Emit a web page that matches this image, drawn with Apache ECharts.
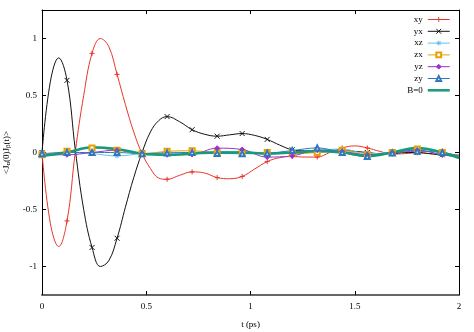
<!DOCTYPE html>
<html><head><meta charset="utf-8">
<script src="https://cdn.jsdelivr.net/npm/echarts@6/dist/echarts.min.js"></script>
<style>html,body{margin:0;padding:0;background:#fff}#c{width:474px;height:332px}</style>
</head><body><div id="c"></div>
<script>
// time grids (ps)
const tMain = [0,0.04,0.08,0.12,0.16,0.2,0.24,0.28,0.32,0.36,0.4,0.44,0.48,0.52,0.56,0.6,
  0.66,0.72,0.78,0.84,0.9,0.96,1.02,1.08,1.14,1.2,1.26,1.32,1.38,1.44,1.5,1.56,1.62,1.68,1.74,1.8,1.86,1.92,1.98,2.0];
const tSmall = [0,0.12,0.24,0.36,0.48,0.6,0.72,0.84,0.96,1.08,1.2,1.32,1.44,1.56,1.68,1.8,1.92,2.0];
// series values
const xy = [0,-0.62,-0.825,-0.6,0.01,0.5,0.87,1.0,0.93,0.685,0.42,0.18,-0.01,-0.14,-0.225,-0.235,
  -0.2,-0.17,-0.18,-0.22,-0.23,-0.21,-0.145,-0.08,-0.045,-0.035,-0.04,-0.04,0.0,0.04,0.058,0.04,0.01,-0.014,-0.01,-0.003,-0.01,-0.023,-0.02,-0.02];
const yx = [0,0.62,0.83,0.633,0.02,-0.5,-0.833,-1.0,-0.95,-0.752,-0.48,-0.22,0.0,0.18,0.28,0.315,
  0.27,0.2,0.16,0.143,0.155,0.166,0.15,0.115,0.065,0.024,0.015,0.02,0.02,0.02,0.01,0.0,-0.01,-0.01,0.0,0.0,-0.01,-0.02,-0.03,-0.03];
const xz = [-0.03,0.0,-0.01,-0.03,-0.01,0.0,0.0,0.01,0.01,-0.01,0.0,0.02,0.03,-0.01,0.0,0.02,-0.02,-0.03];
const zx = [-0.02,0.01,0.04,0.02,-0.01,0.01,0.015,0.0,0.0,0.0,-0.01,0.0,0.02,-0.02,0.0,0.03,0.0,-0.03];
const yz = [-0.02,-0.02,0.0,0.02,-0.01,-0.02,-0.017,0.038,0.026,-0.04,-0.03,0.02,0.01,-0.02,0.0,0.02,-0.02,-0.04];
const zy = [-0.01,0.0,0.0,0.0,-0.01,-0.005,0.0,-0.008,-0.01,-0.006,0.017,0.04,0.0,-0.035,-0.005,0.01,0.0,-0.03];
const b0 = [-0.03,0.0,0.045,0.03,-0.01,-0.02,-0.01,0.0,0.0,-0.01,0.0,0.01,0.0,-0.03,0.0,0.04,0.0,-0.05];
// ticks
const xTicks = [0,0.5,1,1.5,2];
const yTicks = [-1,-0.5,0,0.5,1];

const pair = (t, v) => t.map((x, i) => [x, v[i]]);
const isMarker = x => Math.abs(x / 0.12 - Math.round(x / 0.12)) < 1e-6;
const mSize = s => (val) => isMarker(val[0]) ? s : 0;
const FONT = 'Liberation Serif';

const plus = 'path://M0,5L10,5M5,0L5,10';
const cross = 'path://M0,0L10,10M0,10L10,0';
const star = 'path://M0,5L10,5M5,0L5,10M1.5,1.5L8.5,8.5M1.5,8.5L8.5,1.5';

function mk(name, data, color, symbol, size, extra) {
  return Object.assign({
    name, type: 'line', data, smooth: 0.4, showAllSymbol: true,
    symbol, symbolSize: mSize(size),
    lineStyle: { color, width: 1 },
    itemStyle: { color, borderColor: color, borderWidth: 1 },
    emphasis: { disabled: true }, animation: false
  }, extra || {});
}

const thin = n => ({ name: n, lineStyle: { width: 1 }, itemStyle: { borderWidth: 1 } });

const chart = echarts.init(document.getElementById('c'), null, { renderer: 'canvas' });
chart.setOption({
  animation: false,
  grid: { left: 42, right: 15, top: 10, bottom: 37, outerBoundsMode: 'none', containLabel: false },
  legend: {
    orient: 'vertical', right: 23, top: 15, align: 'right', padding: 0,
    itemWidth: 22, itemHeight: 6, itemGap: 2.8,
    textStyle: { fontFamily: FONT, fontSize: 9, color: '#000' },
    data: [thin('xy'), thin('yx'), thin('xz'), thin('zx'), thin('yz'), thin('zy'),
      { name: 'B=0', itemStyle: { opacity: 0 }, lineStyle: { width: 2.5 } }]
  },
  xAxis: [{
    type: 'value', min: 0, max: 2, position: 'bottom',
    axisLine: { show: true, onZero: false, lineStyle: { color: '#666', width: 2 } },
    axisTick: { inside: true, length: 4, lineStyle: { color: '#000' }, customValues: xTicks },
    axisLabel: { fontFamily: FONT, fontSize: 9, color: '#000', margin: 7, customValues: xTicks },
    splitLine: { show: false },
    name: 't (ps)', nameLocation: 'middle', nameGap: 25,
    nameTextStyle: { fontFamily: FONT, fontSize: 9, color: '#000' }
  }, {
    type: 'value', min: 0, max: 2, position: 'top',
    axisLine: { show: true, onZero: false, lineStyle: { color: '#000', width: 1 } },
    axisTick: { inside: true, length: 4, lineStyle: { color: '#000' }, customValues: xTicks },
    axisLabel: { show: false }, splitLine: { show: false }
  }],
  yAxis: [{
    type: 'value', min: -1.25, max: 1.25, position: 'left',
    axisLine: { show: true, onZero: false, lineStyle: { color: '#000', width: 1 } },
    axisTick: { show: true, inside: true, length: 4, lineStyle: { color: '#000' }, customValues: yTicks },
    axisLabel: { fontFamily: FONT, fontSize: 9, color: '#000', margin: 5, customValues: yTicks },
    splitLine: { show: false },
    name: '{a|<J}{s|α}{a|(0)J}{s|β}{a|(t)>}', nameLocation: 'middle', nameGap: 26,
    nameTextStyle: { fontFamily: FONT, fontSize: 9, color: '#000',
      rich: { a: { fontFamily: FONT, fontSize: 9, color: '#000' },
              s: { fontFamily: FONT, fontSize: 7, color: '#000', padding: [4, 0, 0, 0] } } }
  }, {
    type: 'value', min: -1.25, max: 1.25, position: 'right',
    axisLine: { show: true, onZero: false, lineStyle: { color: '#000', width: 1 } },
    axisTick: { show: true, inside: true, length: 4, lineStyle: { color: '#000' }, customValues: yTicks },
    axisLabel: { show: false }, splitLine: { show: false }
  }],
  series: [
    mk('xy', pair(tMain, xy), '#e8352a', plus, 5),
    mk('yx', pair(tMain, yx), '#111111', cross, 5),
    mk('xz', pair(tSmall, xz), '#5ec3e8', star, 5),
    mk('zx', pair(tSmall, zx), '#e6a100', 'emptyRect', 5),
    mk('yz', pair(tSmall, yz), '#9b30d0', 'diamond', 5),
    mk('zy', pair(tSmall, zy), '#2f78c0', 'emptyTriangle', 5),
    mk('B=0', pair(tSmall, b0), '#159a7c', 'none', 0, { lineStyle: { color: '#159a7c', width: 2.5 }, symbolSize: 0 })
  ]
});
</script></body></html>
